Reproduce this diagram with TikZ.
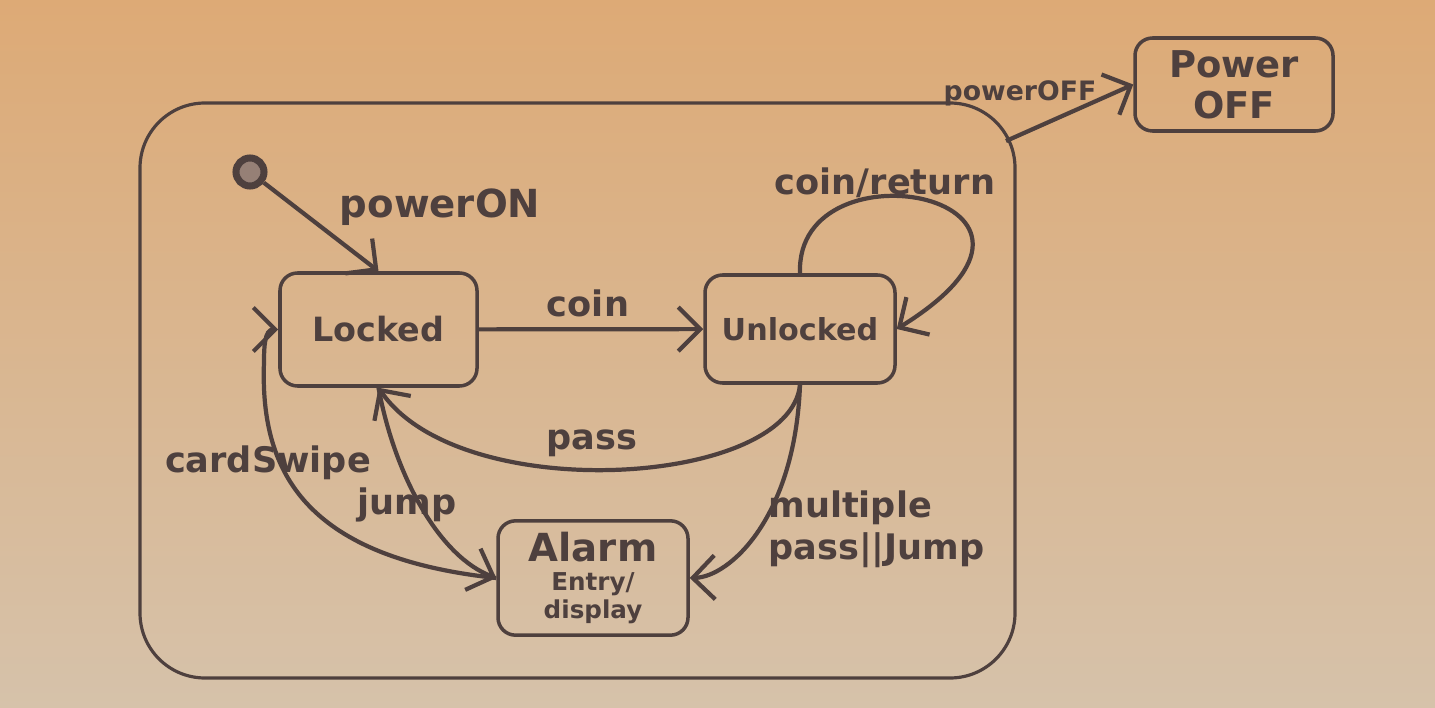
\documentclass[tikz,border=0pt]{standalone}
\usepackage{fontspec}
\setmainfont{DejaVu Sans}
\usetikzlibrary{arrows.meta}

\definecolor{ink}{RGB}{78,64,62}
\definecolor{papertop}{RGB}{221,170,118}
\definecolor{paperbot}{RGB}{214,194,170}
\definecolor{dotfill}{RGB}{150,128,118}

\begin{document}
\begin{tikzpicture}[
  state/.style={draw=ink,line width=1pt,rectangle,rounded corners=5pt,text=ink,
    font=\bfseries\fontsize{9.5}{11}\selectfont},
  lbl/.style={text=ink,font=\bfseries\fontsize{10}{12}\selectfont},
  tr/.style={draw=ink,line width=1.2pt,-{Straight Barb[length=2.2mm,width=4.4mm]}}
]

% paper
\shade[top color=papertop,bottom color=paperbot] (0,0) rectangle (14.35,7.07);
\useasboundingbox (0,0) rectangle (14.35,7.07);

% machine (outer state)
\node[state,line width=0.9pt,rounded corners=0.65cm,minimum width=8.75cm,minimum height=5.75cm] (machine) at (5.775,3.165) {};

% power off node
\node[state,minimum width=1.98cm,minimum height=0.93cm,align=center,
  font=\bfseries\fontsize{10.5}{11.6}\selectfont] (poweroff) at (12.34,6.225) {Power\\OFF};

% initial node
\node[circle,draw=ink,fill=dotfill,line width=2pt,minimum size=0.28cm,inner sep=0pt] (init) at (2.50,5.35) {};

% locked node
\node[state,minimum width=1.97cm,minimum height=1.13cm] (locked) at (3.785,3.775) {Locked};

% unlocked node
\node[state,minimum width=1.90cm,minimum height=1.08cm,font=\bfseries\fontsize{8.6}{10}\selectfont] (unlocked) at (8.00,3.78) {Unlocked};

% alarm node
\node[state,minimum width=1.90cm,minimum height=1.00cm,align=center,
  font=\bfseries\fontsize{7}{8}\selectfont] (alarm) at (5.93,1.29)
  {{\fontsize{11}{12}\selectfont Alarm}\\Entry/\\display};

% labels
\node[lbl,font=\bfseries\fontsize{11}{12}\selectfont] (lpoweron) at (4.40,5.00) {powerON};
\node[lbl] (lcoin) at (5.88,4.04) {coin};
\node[lbl] (lreturn) at (8.85,5.24) {coin/return};
\node[lbl] (lpass) at (5.92,2.64) {pass};
\node[lbl] (lswipe) at (2.68,2.44) {cardSwipe};
\node[lbl] (ljump) at (4.07,2.02) {jump};
\node[lbl,align=left,anchor=west] (lmultiple) at (7.56,1.78) {multiple\\pass||Jump};
\node[lbl,font=\bfseries\fontsize{7.6}{9}\selectfont] (lpoweroff) at (10.20,6.14) {powerOFF};

% transitions
\draw[tr] (init) -- (locked.north);
\draw[tr] (locked) -- (unlocked);
\draw[tr] (unlocked.north) .. controls (7.95,5.7) and (11.1,5.1) .. (unlocked.east);
\draw[tr] (unlocked.south) .. controls (7.9,2.2) and (4.6,2.0) .. (locked.south);
\draw[tr] (unlocked.south) .. controls (7.95,1.9) and (7.3,1.3) .. (alarm.east);
\draw[tr] (locked.south) .. controls (3.95,2.3) and (4.4,1.5) .. (alarm.west);
\draw[tr] (alarm.west) .. controls (3.0,1.5) and (2.6,2.4) .. (2.64,3.45) to[out=90,in=180] (locked.west);

% leaving the machine
\coordinate (offstart) at (10.06,5.66);
\draw[tr] (offstart) -- (poweroff.west);

\end{tikzpicture}
\end{document}
